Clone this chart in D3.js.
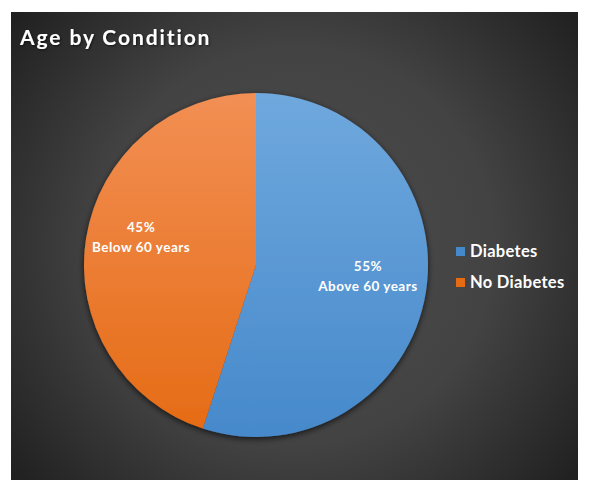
<!DOCTYPE html>
<html><head><meta charset="utf-8">
<script src="https://cdn.jsdelivr.net/npm/d3@7"></script>
<style>body{margin:0;background:#fff;}svg{display:block;}</style>
</head><body>
<script>
const categories = ["Diabetes", "No Diabetes"];
const values = [55, 45];
const labelLines = ["Above 60 years", "Below 60 years"];
const title = "Age by Condition";

const W = 590, H = 491;
const svg = d3.select("body").append("svg").attr("width", W).attr("height", H);
const defs = svg.append("defs");

const bg = defs.append("radialGradient").attr("id","bg").attr("gradientUnits","userSpaceOnUse")
  .attr("cx",295).attr("cy",246).attr("r",360);
bg.append("stop").attr("offset","0%").attr("stop-color","#4d4d4d");
bg.append("stop").attr("offset","55%").attr("stop-color","#434343");
bg.append("stop").attr("offset","100%").attr("stop-color","#212121");

const cx = 256, cy = 265, R = 172;
const grads = [["#6fa8dd","#4689cb"],["#f28f54","#e56b14"]];
grads.forEach((gc,i)=>{
  const lg = defs.append("linearGradient").attr("id","sgl"+i).attr("gradientUnits","userSpaceOnUse")
    .attr("x1",0).attr("y1",-R).attr("x2",0).attr("y2",R);
  lg.append("stop").attr("offset","0%").attr("stop-color",gc[0]);
  lg.append("stop").attr("offset","100%").attr("stop-color",gc[1]);
});
const sh = defs.append("filter").attr("id","sh").attr("x","-20%").attr("y","-20%").attr("width","140%").attr("height","140%");
sh.append("feGaussianBlur").attr("in","SourceAlpha").attr("stdDeviation",3);
sh.append("feOffset").attr("dx",0).attr("dy",2).attr("result","b");
sh.append("feComponentTransfer").append("feFuncA").attr("type","linear").attr("slope",0.7);
const m = sh.append("feMerge"); m.append("feMergeNode"); m.append("feMergeNode").attr("in","SourceGraphic");

const ts = defs.append("filter").attr("id","ts");
ts.append("feDropShadow").attr("dx",1).attr("dy",1).attr("stdDeviation",1).attr("flood-color","#000").attr("flood-opacity",0.6);

svg.append("rect").attr("x",11).attr("y",12).attr("width",567).attr("height",468).attr("fill","url(#bg)");

svg.append("text").attr("x",20).attr("y",45).text(title)
  .attr("fill","#fff").attr("font-family","Lato, 'Open Sans', sans-serif").attr("font-weight","bold")
  .attr("font-size",21).attr("letter-spacing",1.9).attr("filter","url(#ts)");

const pie = d3.pie().sort(null).value(d=>d)(values);
const arc = d3.arc().innerRadius(0).outerRadius(R);
const g = svg.append("g").attr("transform",`translate(${cx},${cy})`);
g.append("g").attr("filter","url(#sh)").selectAll("path").data(pie).join("path")
  .attr("d",arc).attr("fill",(d,i)=>`url(#sgl${i})`);

const labArc = d3.arc().innerRadius(R*0.7).outerRadius(R*0.7);
const nudge = [[-7,-8],[4,-9]];
const lab = g.selectAll("text.lab").data(pie).join("text").attr("class","lab")
  .attr("text-anchor","middle").attr("fill","#fff")
  .attr("font-family","Lato, 'Open Sans', sans-serif").attr("font-weight","bold").attr("font-size",13.5)
  .attr("letter-spacing",0.5)
  .attr("transform",(d,i)=>{ const c = labArc.centroid(d); return `translate(${c[0]+nudge[i][0]},${c[1]+nudge[i][1]})`; });
lab.append("tspan").attr("x",0).attr("dy",-5).text(d=>d.value+"%");
lab.append("tspan").attr("x",0).attr("dy",20).text((d,i)=>labelLines[i]);

const leg = svg.append("g").selectAll("g").data(categories).join("g")
  .attr("transform",(d,i)=>`translate(456,${247+i*31})`);
leg.append("rect").attr("width",9).attr("height",9).attr("fill",(d,i)=>grads[i][1]);
leg.append("text").attr("x",14).attr("y",9.5).text(d=>d).attr("fill","#fff")
  .attr("font-family","Lato, 'Open Sans', sans-serif").attr("font-size",16.5).attr("font-weight","bold")
  .attr("letter-spacing",0.3);
</script>
</body></html>
